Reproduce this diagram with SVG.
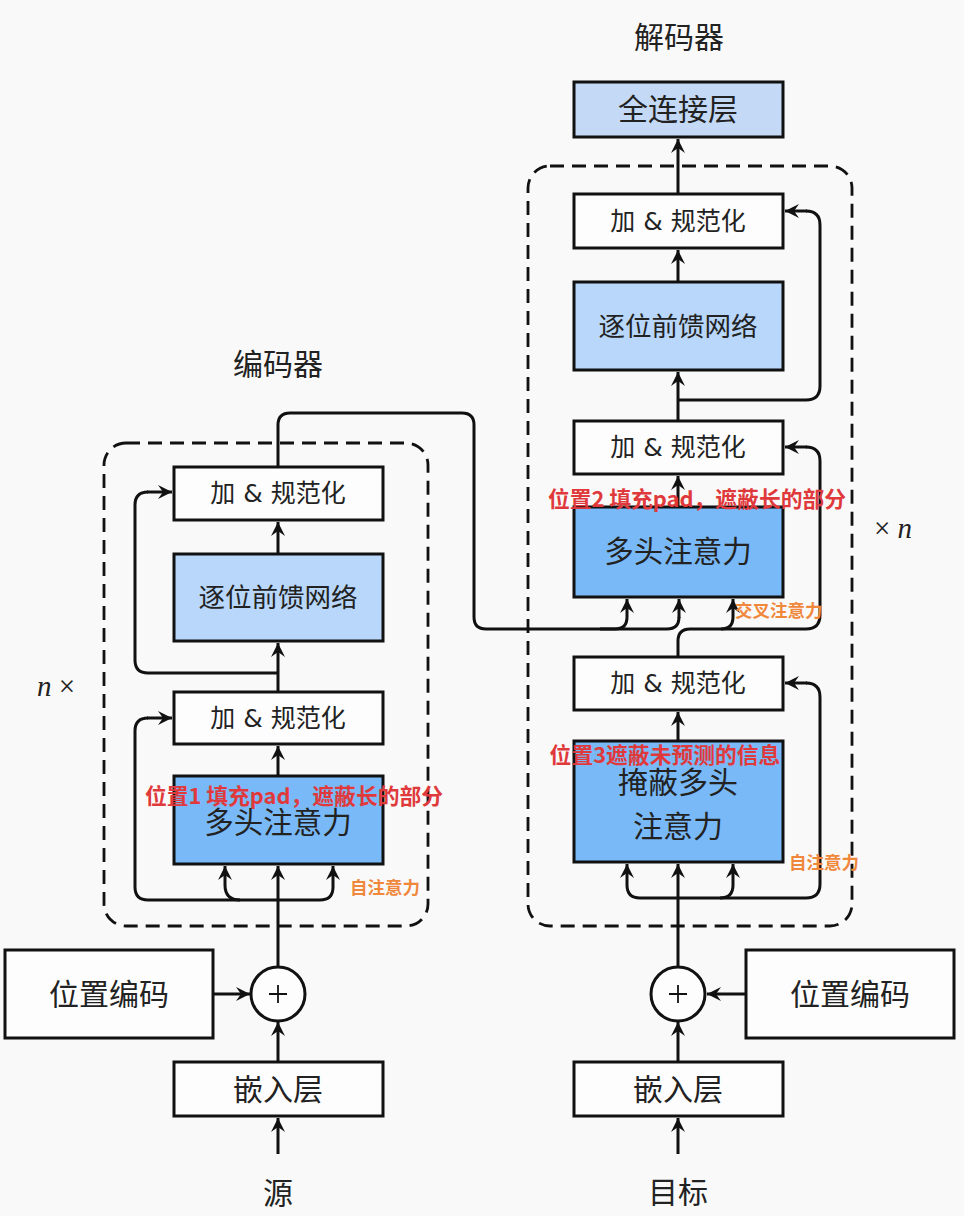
<svg xmlns="http://www.w3.org/2000/svg" width="964" height="1216" viewBox="0 0 964 1216">
<style>
.bg{fill:#f9f9f9}
.box{stroke:#111;stroke-width:3}
.w{fill:#fdfdfd}
.ffn{fill:#b8d7fa}
.fc{fill:#c3d9f6}
.mha{fill:#79b9f7}
.dash{fill:none;stroke:#111;stroke-width:2.8;stroke-dasharray:14 8}
.t{font-family:"DejaVu Sans","Noto Sans CJK SC",sans-serif;fill:#222;text-anchor:middle;dominant-baseline:central}
.red{font-family:"Noto Sans CJK SC","Noto Sans",sans-serif;fill:#e0393c;font-weight:bold;font-size:21.8px;text-anchor:middle;dominant-baseline:central}
.org{font-family:"Noto Sans CJK SC","Noto Sans",sans-serif;fill:#f0883c;font-weight:bold;font-size:17.5px;dominant-baseline:central}
.mth{font-family:"Liberation Serif","DejaVu Serif",serif;font-size:29px;fill:#222;dominant-baseline:central}
.c{fill:none;stroke:#111;stroke-width:3}
.ca{fill:none;stroke:#111;stroke-width:3;marker-end:url(#ah)}
</style>
<defs>
<marker id="ah" viewBox="-15 -8 17 16" refX="0" refY="0" markerWidth="17" markerHeight="16" markerUnits="userSpaceOnUse" orient="auto">
<path d="M0,0 L-14,-7 L-9,0 L-14,7 Z" fill="#111"/>
</marker>
</defs>
<rect class="bg" x="0" y="0" width="964" height="1216"/>

<g id="encoder-frame">
<rect class="dash" x="104" y="443" width="324" height="483" rx="22"/>
<text class="t" x="278" y="364" font-size="30">编码器</text>
<text class="mth" x="37" y="686"><tspan font-style="italic">n</tspan> ×</text>
</g>
<g id="decoder-frame">
<rect class="dash" x="528" y="166" width="324" height="760" rx="22"/>
<text class="t" x="679" y="37" font-size="30">解码器</text>
<text class="mth" x="874" y="528">× <tspan font-style="italic">n</tspan></text>
</g>

<g id="connectors">
<!-- encoder -->
<path class="ca" d="M278,1154 V1118"/>
<path class="ca" d="M278,1062 V1022"/>
<path class="ca" d="M213,994 H250"/>
<path class="ca" d="M278,967 V866"/>
<path class="c" d="M278,900 H148 Q135,900 135,887 V731 Q135,718 148,718"/>
<path class="ca" d="M147,718 H172"/>
<path class="ca" d="M240,900 Q225,900 225,885 V866"/>
<path class="ca" d="M278,900 H320 Q333,900 333,887 V866"/>
<path class="ca" d="M278,776 V746"/>
<path class="ca" d="M278,692 V643"/>
<path class="c" d="M278,673 H148 Q135,673 135,660 V505 Q135,492 148,492"/>
<path class="ca" d="M147,492 H172"/>
<path class="ca" d="M278,553 V522"/>
<path class="c" d="M278,467 V425 Q278,413 290,413 H462 Q474,413 474,425 V617 Q474,629 486,629 H667 Q679,629 679,617"/>
<path class="ca" d="M679,618 V599"/>
<path class="ca" d="M600,629 H615 Q627,629 627,617 V599"/>
<!-- decoder -->
<path class="ca" d="M678,1154 V1118"/>
<path class="ca" d="M678,1062 V1022"/>
<path class="ca" d="M746,994 H707"/>
<path class="ca" d="M678,967 V864"/>
<path class="ca" d="M678,898 H640 Q627,898 627,885 V864"/>
<path class="ca" d="M720,898 Q733,898 733,885 V864"/>
<path class="c" d="M678,898 H806 Q820,898 820,884 V697 Q820,683 806,683"/>
<path class="ca" d="M807,683 H785"/>
<path class="ca" d="M678,741 V712"/>
<path class="c" d="M678,657 V641 Q678,629 690,629 H806 Q820,629 820,615 V461 Q820,447 806,447"/>
<path class="ca" d="M807,447 H785"/>
<path class="ca" d="M721,629 Q733,629 733,617 V599"/>
<path class="ca" d="M678,507 V476"/>
<path class="ca" d="M678,421 V372"/>
<path class="c" d="M678,400 H806 Q820,400 820,386 V225 Q820,211 806,211"/>
<path class="ca" d="M807,211 H785"/>
<path class="ca" d="M678,282 V250"/>
<path class="ca" d="M678,194 V139"/>
</g>

<g id="enc-embed">
<rect class="box w" x="174" y="1062" width="209" height="54"/>
<text class="t" x="278" y="1089" font-size="30">嵌入层</text>
</g>
<g id="enc-src"><text class="t" x="278" y="1193" font-size="30">源</text></g>
<g id="enc-pos">
<rect class="box w" x="5" y="950" width="208" height="88"/>
<text class="t" x="109" y="994" font-size="30">位置编码</text>
</g>
<g id="enc-plus">
<circle class="box w" cx="278" cy="994" r="27"/>
<path d="M269,994 H287 M278,985 V1003" stroke="#111" stroke-width="1.8"/>
</g>
<g id="enc-mha">
<rect class="box mha" x="174" y="776" width="209" height="88"/>
<text class="t" x="278" y="823" font-size="29.5">多头注意力</text>
</g>
<g id="enc-addnorm1">
<rect class="box w" x="174" y="692" width="209" height="52"/>
<text class="t" x="278" y="718" font-size="25">加 &amp; 规范化</text>
</g>
<g id="enc-ffn">
<rect class="box ffn" x="174" y="554" width="209" height="87"/>
<text class="t" x="278" y="597" font-size="26.5">逐位前馈网络</text>
</g>
<g id="enc-addnorm2">
<rect class="box w" x="174" y="467" width="209" height="53"/>
<text class="t" x="278" y="493" font-size="25">加 &amp; 规范化</text>
</g>
<g id="enc-labels">
<text class="red" x="294" y="794">位置1 填充pad，遮蔽长的部分</text>
<text class="org" x="350" y="886">自注意力</text>
</g>

<g id="dec-embed">
<rect class="box w" x="574" y="1062" width="209" height="54"/>
<text class="t" x="678" y="1089" font-size="30">嵌入层</text>
</g>
<g id="dec-tgt"><text class="t" x="678" y="1192" font-size="30">目标</text></g>
<g id="dec-pos">
<rect class="box w" x="746" y="950" width="208" height="88"/>
<text class="t" x="850" y="994" font-size="30">位置编码</text>
</g>
<g id="dec-plus">
<circle class="box w" cx="678" cy="994" r="27"/>
<path d="M669,994 H687 M678,985 V1003" stroke="#111" stroke-width="1.8"/>
</g>
<g id="dec-masked-mha">
<rect class="box mha" x="574" y="741" width="209" height="121"/>
<text class="t" x="678" y="782" font-size="30">掩蔽多头</text>
<text class="t" x="678" y="826" font-size="30">注意力</text>
</g>
<g id="dec-addnorm1">
<rect class="box w" x="574" y="657" width="209" height="53"/>
<text class="t" x="678" y="683" font-size="25">加 &amp; 规范化</text>
</g>
<g id="dec-mha">
<rect class="box mha" x="574" y="507" width="209" height="90"/>
<text class="t" x="678" y="552" font-size="29.5">多头注意力</text>
</g>
<g id="dec-addnorm2">
<rect class="box w" x="574" y="421" width="209" height="53"/>
<text class="t" x="678" y="447" font-size="25">加 &amp; 规范化</text>
</g>
<g id="dec-ffn">
<rect class="box ffn" x="574" y="282" width="209" height="88"/>
<text class="t" x="678" y="326" font-size="26.5">逐位前馈网络</text>
</g>
<g id="dec-addnorm3">
<rect class="box w" x="574" y="194" width="209" height="54"/>
<text class="t" x="678" y="221" font-size="25">加 &amp; 规范化</text>
</g>
<g id="dec-fc">
<rect class="box fc" x="574" y="82" width="209" height="55"/>
<text class="t" x="678" y="109" font-size="30">全连接层</text>
</g>
<g id="dec-labels">
<text class="red" x="697" y="497">位置2 填充pad，遮蔽长的部分</text>
<text class="red" x="665" y="753">位置3遮蔽未预测的信息</text>
<text class="org" x="735" y="609">交叉注意力</text>
<text class="org" x="789" y="861">自注意力</text>
</g>
</svg>
